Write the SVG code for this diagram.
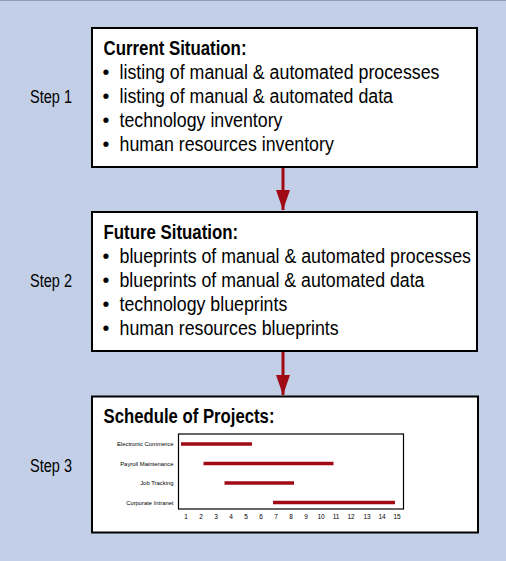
<svg xmlns="http://www.w3.org/2000/svg" width="506" height="561" viewBox="0 0 506 561">
<style>
  .box { fill: #ffffff; stroke: #000000; stroke-width: 2; }
  .title { font-family: "Liberation Sans", Arial, sans-serif; font-weight: bold; font-size: 20px; fill: #000; }
  .item { font-family: "Liberation Sans", Arial, sans-serif; font-size: 19.5px; fill: #000; }
  .step { font-family: "Liberation Sans", Arial, sans-serif; font-size: 18px; fill: #000; }
  .glabel { font-family: "Liberation Sans", Arial, sans-serif; font-size: 6.2px; fill: #000; text-anchor: end; }
  .axis { font-family: "Liberation Sans", Arial, sans-serif; font-size: 6.5px; fill: #000; text-anchor: middle; }
  .bar { stroke: #A00A14; stroke-width: 3.5; fill: none; }
  .conn { stroke: #A00A14; stroke-width: 3; fill: none; }
</style>
<defs>
  <marker id="arrow" viewBox="0 0 20 14" markerWidth="20" markerHeight="14" refX="20" refY="7" orient="auto" markerUnits="userSpaceOnUse">
    <path d="M0,0 L20,7 L0,14 z" fill="#A00A14"/>
  </marker>
</defs>
<rect x="0" y="0" width="506" height="561" fill="#C3CFE6"/>
<line x1="0" y1="0.5" x2="506" y2="0.5" stroke="#8E9CBB" stroke-width="1"/>

<g id="connectors">
  <line class="conn" x1="283" y1="168" x2="283" y2="210" marker-end="url(#arrow)"/>
  <line class="conn" x1="283" y1="352" x2="283" y2="395" marker-end="url(#arrow)"/>
</g>

<g id="node-current">
  <rect class="box" x="92" y="28" width="385" height="139"/>
  <text class="title" x="103.5" y="55" textLength="143" lengthAdjust="spacingAndGlyphs">Current Situation:</text>
  <text class="item" x="102.5" y="79">•</text>
  <text class="item" x="119.5" y="79" textLength="320" lengthAdjust="spacingAndGlyphs">listing of manual &amp; automated processes</text>
  <text class="item" x="102.5" y="103">•</text>
  <text class="item" x="119.5" y="103" textLength="273.5" lengthAdjust="spacingAndGlyphs">listing of manual &amp; automated data</text>
  <text class="item" x="102.5" y="127">•</text>
  <text class="item" x="119.5" y="127" textLength="163" lengthAdjust="spacingAndGlyphs">technology inventory</text>
  <text class="item" x="102.5" y="151">•</text>
  <text class="item" x="119.5" y="151" textLength="214.3" lengthAdjust="spacingAndGlyphs">human resources inventory</text>
</g>
<g id="label-step1">
  <text class="step" x="30" y="103" textLength="42" lengthAdjust="spacingAndGlyphs">Step 1</text>
</g>

<g id="node-future">
  <rect class="box" x="92" y="212" width="385" height="139"/>
  <text class="title" x="103.5" y="239" textLength="134.6" lengthAdjust="spacingAndGlyphs">Future Situation:</text>
  <text class="item" x="102.5" y="263">•</text>
  <text class="item" x="119.5" y="263" textLength="351.5" lengthAdjust="spacingAndGlyphs">blueprints of manual &amp; automated processes</text>
  <text class="item" x="102.5" y="287">•</text>
  <text class="item" x="119.5" y="287" textLength="305" lengthAdjust="spacingAndGlyphs">blueprints of manual &amp; automated data</text>
  <text class="item" x="102.5" y="311">•</text>
  <text class="item" x="119.5" y="311" textLength="167.8" lengthAdjust="spacingAndGlyphs">technology blueprints</text>
  <text class="item" x="102.5" y="335">•</text>
  <text class="item" x="119.5" y="335" textLength="219.2" lengthAdjust="spacingAndGlyphs">human resources blueprints</text>
</g>
<g id="label-step2">
  <text class="step" x="30" y="287" textLength="42" lengthAdjust="spacingAndGlyphs">Step 2</text>
</g>

<g id="node-schedule">
  <rect class="box" x="92" y="396.5" width="386" height="136"/>
  <text class="title" x="103.5" y="423" textLength="171" lengthAdjust="spacingAndGlyphs">Schedule of Projects:</text>
  <rect x="178.5" y="434" width="225" height="75" fill="#ffffff" stroke="#000" stroke-width="1.2"/>
  <text class="glabel" x="173.5" y="446.3" textLength="56.6" lengthAdjust="spacingAndGlyphs">Electronic Commerce</text>
  <text class="glabel" x="173.5" y="465.8" textLength="53.3" lengthAdjust="spacingAndGlyphs">Payroll Maintenance</text>
  <text class="glabel" x="173.5" y="485.3" textLength="33.3" lengthAdjust="spacingAndGlyphs">Job Tracking</text>
  <text class="glabel" x="173.5" y="504.8" textLength="47.3" lengthAdjust="spacingAndGlyphs">Corporate Intranet</text>
  <line class="bar" x1="181" y1="444" x2="252" y2="444"/>
  <line class="bar" x1="203.5" y1="463.5" x2="333.5" y2="463.5"/>
  <line class="bar" x1="224.5" y1="483" x2="294" y2="483"/>
  <line class="bar" x1="273" y1="502.5" x2="395" y2="502.5"/>
  <text class="axis" x="186" y="519">1</text>
  <text class="axis" x="201" y="519">2</text>
  <text class="axis" x="216" y="519">3</text>
  <text class="axis" x="231" y="519">4</text>
  <text class="axis" x="246" y="519">5</text>
  <text class="axis" x="261" y="519">6</text>
  <text class="axis" x="276" y="519">7</text>
  <text class="axis" x="291" y="519">8</text>
  <text class="axis" x="306" y="519">9</text>
  <text class="axis" x="321" y="519">10</text>
  <text class="axis" x="336" y="519">11</text>
  <text class="axis" x="351" y="519">12</text>
  <text class="axis" x="367" y="519">13</text>
  <text class="axis" x="382" y="519">14</text>
  <text class="axis" x="397" y="519">15</text>
</g>
<g id="label-step3">
  <text class="step" x="30" y="472" textLength="42" lengthAdjust="spacingAndGlyphs">Step 3</text>
</g>
</svg>
